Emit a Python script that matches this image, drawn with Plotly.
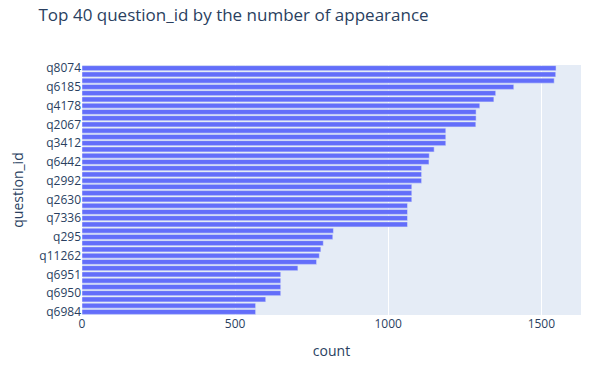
import plotly.graph_objects as go

# categories listed bottom-to-top (smallest count at bottom)
question_ids = [
    "q6984", "q7012", "q6990", "q6950", "q6955", "q6949", "q6951", "q3003",
    "q2948", "q11262", "q11255", "q5107", "q295", "q297", "q7341", "q7336",
    "q7339", "q2632", "q2630", "q2633", "q2631", "q2992", "q2994", "q2993",
    "q6442", "q6440", "q3410", "q3412", "q3411", "q2068", "q2067", "q2066",
    "q4179", "q4178", "q6187", "q6186", "q6185", "q8075", "q8073", "q8074",
]
counts = [
    567, 567, 600, 649, 649, 649, 649, 705,
    766, 775, 780, 788, 819, 821, 1063, 1063,
    1063, 1063, 1077, 1077, 1077, 1109, 1109, 1109,
    1133, 1134, 1150, 1188, 1188, 1188, 1286, 1287,
    1287, 1299, 1345, 1351, 1410, 1542, 1547, 1548,
]

fig = go.Figure(
    go.Bar(
        x=counts,
        y=question_ids,
        orientation="h",
        marker_color="#636efa",
        hovertemplate="count=%{x}<br>question_id=%{y}<extra></extra>",
    )
)

W, H = 581, 364
fig.update_layout(
    template="plotly",
    width=W,
    height=H,
    margin=dict(l=74, r=8, t=57, b=57),
    font=dict(family="Open Sans, verdana, arial, sans-serif"),
    title=dict(
        text="Top 40 question_id by the number of appearance",
        x=30.5 / W,
        xanchor="left",
        y=1 - 7.5 / H,
        yanchor="middle",
        font=dict(size=17),
    ),
    xaxis=dict(title=dict(text="count")),
    yaxis=dict(
        title=dict(text="question_id", standoff=18),
        type="category",
        automargin=False,
    ),
    bargap=0.2,
)

fig.write_html("out.html")
